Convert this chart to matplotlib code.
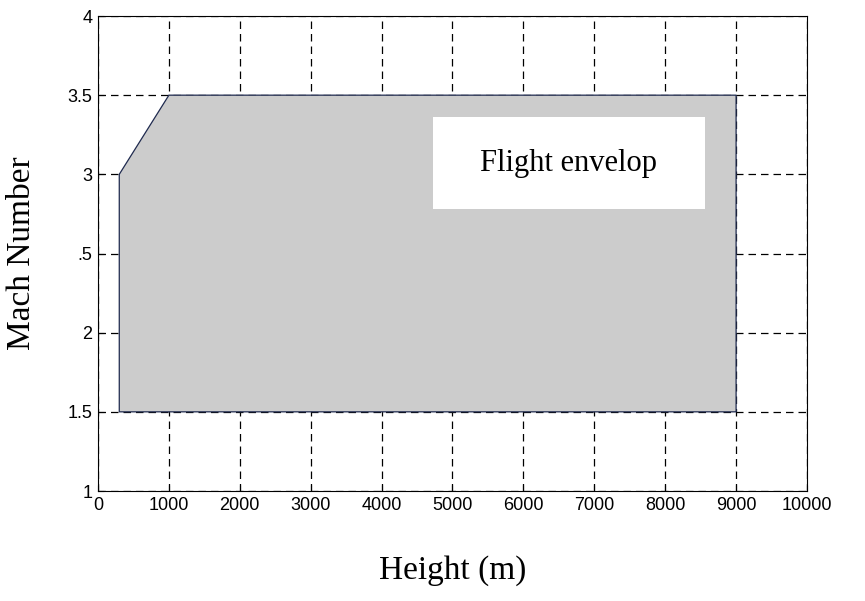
import matplotlib
matplotlib.use("Agg")
import matplotlib.pyplot as plt
from matplotlib.patches import Polygon, Rectangle

heights = [300, 300, 1000, 9000, 9000]
machs = [1.5, 3.0, 3.5, 3.5, 1.5]
xticks = [0, 1000, 2000, 3000, 4000, 5000, 6000, 7000, 8000, 9000, 10000]
yticks = [1, 1.5, 2, 2.5, 3, 3.5, 4]
ylabels = ["1", "1.5", "2", ".5", "3", "3.5", "4"]

fig = plt.figure(figsize=(8.65, 6.01), dpi=100)
ax = fig.add_axes([98/865, 1-491/601, 709/865, 475/601])
ax.add_patch(Polygon(list(zip(heights, machs)), closed=True, facecolor="#cccccc",
                     edgecolor="#1f2a4f", linewidth=0.9, zorder=2))
ax.add_patch(Rectangle((4725, 2.78), 3836, 0.582, facecolor="white", edgecolor="none", zorder=3))
ax.text((4725+8561)/2, 3.07, "Flight envelop", ha="center", va="center",
        fontsize=22, family="Liberation Serif", zorder=4)
ax.set_xlim(0, 10000)
ax.set_ylim(1, 4)
ax.set_xticks(xticks)
ax.set_xticklabels([str(t) for t in xticks], family="Liberation Sans", fontsize=13)
ax.set_yticks(yticks)
ax.set_yticklabels(ylabels, family="Liberation Sans", fontsize=13)
ax.grid(True, color="black", linestyle=(0, (6, 4)), linewidth=0.9, zorder=1)
ax.set_axisbelow(True)
ax.tick_params(direction="in", length=4, pad=4)
for s in ax.spines.values():
    s.set_linewidth(0.8)
ax.set_xlabel("Height (m)", family="Liberation Serif", fontsize=24, labelpad=30)
ax.set_ylabel("Mach Number", family="Liberation Serif", fontsize=24, labelpad=22)
fig.savefig("out.png", dpi=100)
